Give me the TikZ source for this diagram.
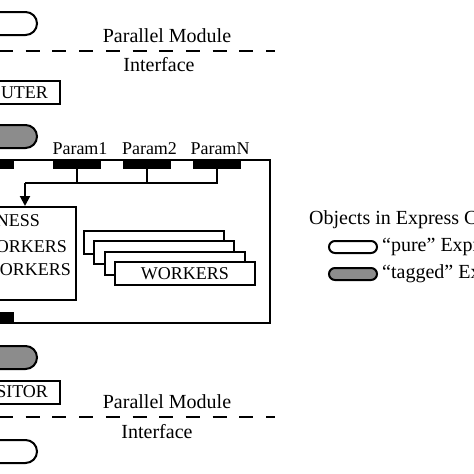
\documentclass[tikz,border=0pt]{standalone}
\usepackage{fontspec}
\setmainfont{Liberation Serif}
\usetikzlibrary{positioning,shapes.misc,arrows.meta}

\begin{document}
\begin{tikzpicture}[x=1pt,y=-1pt,
  every node/.style={inner sep=0pt},
  big/.style={font=\fontsize{20}{24}\selectfont},
  mid/.style={font=\fontsize{18}{21}\selectfont},
  wire/.style={line width=2pt},
  pure/.style={draw,wire,rounded rectangle,minimum height=23pt,minimum width=80pt},
  tagged/.style={pure,fill=black!45},
  objbox/.style={draw,wire,fill=white,minimum height=23pt,inner xsep=12pt},
  port/.style={fill=black,minimum width=48pt,minimum height=10pt},
  cut/.style={line width=2pt,dash pattern=on 14pt off 12.7pt}]
\useasboundingbox (0,0) rectangle (474,474);
\clip (0,0) rectangle (474,474);
% upper interface
\node[pure] (inTop) at (-3,23.5) {};
\node[big] (pmTop) at (167,36) {Parallel Module};
\coordinate (cutTopL) at (-1,51);
\coordinate (cutTopR) at (275,51);
\draw[cut] (cutTopL) -- (cutTopR);
\node[big] (ifTop) at (159,65) {Interface};
\node[objbox,mid,anchor=east] (dist) at (61,92.5) {DISTRIBUTER};
\node[tagged] (tagTop) at (-3,136.5) {};
% module with its ports
\node[draw,wire,anchor=north west,minimum width=279pt,minimum height=163pt] (module) at (-10,159) {};
\node[port,anchor=north east] (portIn) at (14,159) {};
\node[port,anchor=south east] (portOut) at (14,322) {};
\foreach \x/\n [count=\i] in {77/1,146.5/2,217/N} {
  \node[port,anchor=north] (param\i) at (\x,159) {};
  \node[mid,above=4pt of param\i,xshift=3pt] (pLabel\i) {Param\n};
}
\node[draw,wire,anchor=north east,minimum width=150pt,minimum height=93pt] (harness) at (77,206) {};
\node[mid,anchor=east] (hLine1) at (40,221) {HARNESS};
\node[mid,anchor=east] (hLine2) at (67,247) {STOP WORKERS};
\node[mid,anchor=east] (hLine3) at (71,270) {START WORKERS};
\coordinate (busL) at (25,183);
\draw[wire] (param3.south) |- (busL);
\draw[wire] (param1.south) -- (param1.south |- busL);
\draw[wire] (param2.south) -- (param2.south |- busL);
\draw[wire,-{Triangle[width=10pt,length=10pt]}] (busL) -- (harness.north -| busL);
% stack of workers
\foreach \i in {0,...,3}
  \node[draw,wire,fill=white,anchor=north west,minimum width=140pt,minimum height=23pt] (wk\i) at (83+10.3*\i,230+10.3*\i) {};
\node[mid] (wkText) at (wk3) {WORKERS};
% lower interface
\node[tagged] (tagBot) at (-3,357.5) {};
\node[objbox,mid,anchor=east] (depo) at (61,392) {DEPOSITOR};
\node[big] (pmBot) at (167,402) {Parallel Module};
\coordinate (cutBotL) at (-1,417);
\coordinate (cutBotR) at (275,417);
\draw[cut] (cutBotL) -- (cutBotR);
\node[big] (ifBot) at (157,432) {Interface};
\node[pure] (outBot) at (-3,451.5) {};
% legend
\node[big,anchor=west] (legTitle) at (309,220) {Objects in Express Code};
\node[pure,minimum width=48pt,minimum height=12pt] (legPure) at (353,247) {};
\node[big,right=4pt of legPure] (legPureTxt) {“pure” Express objects};
\node[tagged,minimum width=48pt,minimum height=12pt] (legTag) at (353,274) {};
\node[big,right=4pt of legTag] (legTagTxt) {“tagged” Express objects};
\end{tikzpicture}
\end{document}
